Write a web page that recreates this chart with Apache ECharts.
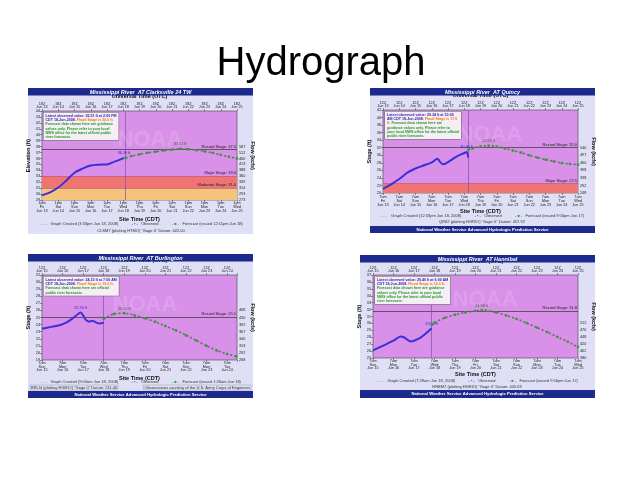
<!DOCTYPE html>
<html><head><meta charset="utf-8">
<script src="https://cdn.jsdelivr.net/npm/echarts@6/dist/echarts.min.js"></script>
<style>html,body{margin:0;padding:0;background:#fff;}#c{width:638px;height:478px;}</style>
</head><body><div id="c"></div>
<script>
// ---------------- DATA ----------------
// dates / weekdays for tick labels
const datesFrom13 = ['Jun 13','Jun 14','Jun 15','Jun 16','Jun 17','Jun 18','Jun 19','Jun 20','Jun 21','Jun 22','Jun 23','Jun 24','Jun 25'];
const weekdaysFrom13 = ['Fri','Sat','Sun','Mon','Tue','Wed','Thu','Fri','Sat','Sun','Mon','Tue','Wed'];
const datesFrom15 = ['Jun 15','Jun 16','Jun 17','Jun 18','Jun 19','Jun 20','Jun 21','Jun 22','Jun 23','Jun 24','Jun 25'];
const weekdaysFrom15 = ['Sun','Mon','Tue','Wed','Thu','Fri','Sat','Sun','Mon','Tue','Wed'];

// Clarksville (x = days since Jun 13 1pm CDT, y = stage ft)
const clarksvilleObserved = [[0,29.8],[0.5,30.3],[1,31.1],[1.5,32.3],[2,33.6],[2.5,34.3],[3,34.8],[3.5,34.95],[4,35.0],[4.5,35.5],[5.05,36.1]];
const clarksvilleForecast = [[5.15,36.1],[5.5,36.4],[6,36.7],[6.5,36.95],[7,37.15],[7.5,37.35],[8,37.5],[8.5,37.62],[9,37.55],[9.5,37.4],[10,37.2],[10.5,36.95],[11,36.6],[11.5,36.3],[12,36.0]];
const clarksvilleFlowStages = [29,30,31,32,33,34,35,36,37,38];
const clarksvilleFlowValues = ['273','293','314','339','360','388','413','460','512','587'];
const clarksvilleRecord = 37.5, clarksvilleMajor = 33.0, clarksvilleModerate = 31.0, clarksvilleNow = 5.15;

// Quincy (x = days since Jun 13 7am CDT)
const quincyObserved = [[0,21.1],[0.5,22.3],[1,23.7],[1.5,25.4],[2,26.5],[2.5,27.3],[3,28.1],[3.35,29.1],[3.5,28.3],[3.7,27.6],[4,28.2],[4.5,29.6],[5,30.6],[5.15,30.9],[5.25,29.4]];
const quincyForecast = [[5.25,31.5],[5.5,31.8],[6,32.3],[6.5,32.55],[7,32.3],[7.5,31.8],[8,31.25],[8.5,30.7],[9,30.0],[9.5,29.4],[10,28.85],[10.5,28.4],[11,27.95],[11.5,27.7],[12,27.5]];
const quincyFlowStages = [20,22,24,26,28,30,32];
const quincyFlowValues = ['248','292','338','398','460','497','540'];
const quincyRecord = 32.0, quincyMajor = 22.5, quincyNow = 5.25;

// Burlington (x = days since Jun 15 7am CDT)
const burlingtonObserved = [[0,23.4],[0.3,23.6],[0.6,23.75],[0.9,23.95],[1.2,24.3],[1.5,24.9],[1.75,25.5],[1.88,25.7],[2.0,25.3],[2.12,24.7],[2.3,24.4],[2.45,24.55],[2.6,24.35],[2.8,24.15],[3.0,24.25]];
const burlingtonForecast = [[3.0,24.8],[3.5,25.5],[4.0,25.6],[4.5,25.3],[5.0,24.9],[5.5,24.4],[6.0,23.8],[6.5,23.2],[7.0,22.5],[7.5,21.75],[8.0,21.0],[8.5,20.35],[9.0,19.85],[9.45,19.5]];
const burlingtonFlowStages = [19,20,21,22,23,24,25,26];
const burlingtonFlowValues = ['268','292','313','340','367','392','430','468'];
const burlingtonRecord = 25.1, burlingtonNow = 3.0;

// Hannibal (x = days since Jun 15 7am CDT)
const hannibalObserved = [[0,26.1],[0.5,26.8],[1.0,27.5],[1.35,28.1],[1.5,28.0],[1.7,27.6],[1.85,27.4],[2.0,27.5],[2.3,27.9],[2.6,28.6],[2.86,29.3]];
const hannibalForecast = [[2.86,29.8],[3.0,30.1],[3.5,30.8],[4.0,31.25],[4.5,31.6],[5.0,31.8],[5.3,31.9],[5.5,31.85],[6.0,31.6],[6.5,31.15],[7.0,30.65],[7.5,30.05],[8.0,29.4],[8.5,28.75],[9.0,28.05],[9.5,27.35],[10.0,26.6]];
const hannibalFlowStages = [25,26,27,28,29,30];
const hannibalFlowValues = ['380','402','420','448','476','512'];
const hannibalRecord = 31.8, hannibalNow = 2.86;

// ---------------- STYLE ----------------
const FF = 'Liberation Sans, Arial, sans-serif';
const PURPLE = '#d890e8', RED = '#f07474', ORANGE = '#f5c47a';
const PANEL = '#dfe0f6', NAVY = '#1b2a8c';

function bottomLabels(hour, wd, dates, n) { return dates.slice(0, n).map((d, i) => hour + '\n' + wd[i] + '\n' + d); }
function topLabels(z, dates, n) { return dates.slice(0, n).map(d => z + '\n' + d); }

const charts = [
  { grid: {left: 42, top: 111, width: 195, height: 89}, xMax: 12, gapB: 16.7, gapT: 12, lh: 3.8,
    bottom: bottomLabels('1pm', weekdaysFrom13, datesFrom13, 13), top: topLabels('18Z', datesFrom13, 13),
    yMin: 29, yMax: 44, yInt: 1, yName: 'Elevation (ft)',
    fs: clarksvilleFlowStages, fv: clarksvilleFlowValues, obs: clarksvilleObserved, fc: clarksvilleForecast,
    record: clarksvilleRecord, now: clarksvilleNow,
    bands: [[29, clarksvilleModerate, ORANGE], [clarksvilleModerate, clarksvilleMajor, RED]],
    stageLines: [[clarksvilleMajor, 'Major Stage: '], [clarksvilleModerate, 'Moderate Stage: ']] },
  { grid: {left: 383, top: 110, width: 195, height: 83}, xMax: 12, gapB: 15.7, gapT: 11.7, lh: 4,
    bottom: bottomLabels('7am', weekdaysFrom13, datesFrom13, 13), top: topLabels('12Z', datesFrom13, 13),
    yMin: 20, yMax: 42, yInt: 2, yName: 'Stage (ft)',
    fs: quincyFlowStages, fv: quincyFlowValues, obs: quincyObserved, fc: quincyForecast,
    record: quincyRecord, now: quincyNow,
    bands: [[20, quincyMajor, RED]], stageLines: [[quincyMajor, 'Major Stage: ']] },
  { grid: {left: 42, top: 275, width: 195, height: 85}, xMax: 9.48, gapB: 15.5, gapT: 11.7, lh: 3.5,
    bottom: bottomLabels('7am', weekdaysFrom15, datesFrom15, 10), top: topLabels('12Z', datesFrom15, 10),
    yMin: 19, yMax: 31, yInt: 1, yName: 'Stage (ft)',
    fs: burlingtonFlowStages, fv: burlingtonFlowValues, obs: burlingtonObserved, fc: burlingtonForecast,
    record: burlingtonRecord, now: burlingtonNow, bands: [], stageLines: [] },
  { grid: {left: 373, top: 275, width: 205, height: 83}, xMax: 10, gapB: 13.5, gapT: 11, lh: 3.3,
    bottom: bottomLabels('7am', weekdaysFrom15, datesFrom15, 11), top: topLabels('12Z', datesFrom15, 11),
    yMin: 25, yMax: 37, yInt: 1, yName: 'Stage (ft)',
    fs: hannibalFlowStages, fv: hannibalFlowValues, obs: hannibalObserved, fc: hannibalForecast,
    record: hannibalRecord, now: hannibalNow, bands: [], stageLines: [] }
];

const isInt = v => Math.abs(v - Math.round(v)) < 1e-6;
const tickStyle = {show: true, length: 2, lineStyle: {color: '#333', width: 0.5}};
const nameStyle = {fontSize: 5.5, fontWeight: 'bold', color: '#111', fontFamily: FF};

const grid = [], xAxis = [], yAxis = [], series = [];
charts.forEach((c, gi) => {
  grid.push(Object.assign({show: true, backgroundColor: PURPLE, borderColor: '#444', borderWidth: 0.6}, c.grid));
  xAxis.push({type: 'value', gridIndex: gi, position: 'bottom', min: 0, max: c.xMax, interval: 1,
    name: 'Site Time (CDT)', nameLocation: 'middle', nameGap: c.gapB, nameMoveOverlap: false, nameTextStyle: nameStyle,
    axisLine: {show: false}, axisTick: tickStyle, splitLine: {show: false},
    axisLabel: {fontSize: 3.8, lineHeight: c.lh, margin: 1.5, color: '#222', fontFamily: FF,
      formatter: v => isInt(v) && c.bottom[Math.round(v)] ? c.bottom[Math.round(v)] : ''}});
  xAxis.push({type: 'value', gridIndex: gi, position: 'top', min: 0, max: c.xMax, interval: 1,
    name: 'Universal Time (UTC)', nameLocation: 'middle', nameGap: c.gapT, nameMoveOverlap: false, nameTextStyle: nameStyle,
    axisLine: {show: false}, axisTick: tickStyle, splitLine: {show: false},
    axisLabel: {fontSize: 3.8, lineHeight: 3.6, margin: 2, color: '#222', fontFamily: FF,
      formatter: v => isInt(v) && c.top[Math.round(v)] ? c.top[Math.round(v)] : ''}});
  yAxis.push({type: 'value', gridIndex: gi, position: 'left', min: c.yMin, max: c.yMax, interval: c.yInt,
    name: c.yName, nameLocation: 'middle', nameGap: 11, nameRotate: 90, nameMoveOverlap: false, nameTextStyle: nameStyle,
    axisLine: {show: false}, axisTick: tickStyle, splitLine: {show: false},
    axisLabel: {fontSize: 3.8, margin: 2, color: '#222', fontFamily: FF}});
  yAxis.push({type: 'value', gridIndex: gi, position: 'right', min: c.yMin, max: c.yMax, interval: c.yInt,
    name: 'Flow (kcfs)', nameLocation: 'middle', nameGap: 13, nameRotate: -90, nameMoveOverlap: false, nameTextStyle: nameStyle,
    axisLine: {show: false}, axisTick: {show: false}, splitLine: {show: false},
    axisLabel: {fontSize: 3.8, margin: 2, color: '#222', fontFamily: FF,
      formatter: v => { const i = c.fs.findIndex(s => Math.abs(s - v) < 1e-6); return i >= 0 ? c.fv[i] : ''; }}});

  const mlData = [
    {yAxis: c.record, label: {formatter: 'Record Stage: ' + c.record.toFixed(1)}, lineStyle: {color: '#333', width: 0.7, type: 'solid'}},
    {xAxis: c.now, label: {show: false}, lineStyle: {color: '#7a52b5', width: 0.7, type: 'solid'}}
  ];
  c.stageLines.forEach(s => mlData.push({yAxis: s[0], label: {formatter: s[1] + s[0].toFixed(1)}, lineStyle: {color: '#b04a6a', width: 0.5, type: 'solid'}}));

  series.push({type: 'line', name: 'Observed', xAxisIndex: 2 * gi, yAxisIndex: 2 * gi, data: c.obs,
    smooth: 0.3, showSymbol: false, lineStyle: {color: '#3a2fd9', width: 2}, z: 5,
    markArea: {silent: true, data: c.bands.map(b => [{yAxis: b[0], itemStyle: {color: b[2]}}, {yAxis: b[1]}])},
    markLine: {silent: true, symbol: 'none', data: mlData,
      label: {position: 'insideEndTop', fontSize: 4, color: '#222', distance: 1, fontFamily: FF}},
    markPoint: {silent: true, symbol: 'circle', symbolSize: 1, itemStyle: {color: 'rgba(0,0,0,0)'},
      data: [{type: 'max'}],
      label: {show: true, position: 'top', distance: 2, fontSize: 3.8, color: '#3322cc', fontFamily: FF,
        formatter: p => p.value.toFixed(2) + ' ft'}}
  });
  series.push({type: 'line', name: 'Forecast', xAxisIndex: 2 * gi, yAxisIndex: 2 * gi, data: c.fc,
    smooth: 0.3, symbol: 'rect', symbolSize: 2.4, showAllSymbol: true, itemStyle: {color: '#2aa52a'},
    lineStyle: {color: '#6a6a6a', width: 1.6, type: [2, 2]}, z: 6,
    markPoint: {silent: true, symbol: 'circle', symbolSize: 1, itemStyle: {color: 'rgba(0,0,0,0)'},
      data: [{type: 'max'}],
      label: {show: true, position: 'top', distance: 2, fontSize: 3.8, color: '#2d5a2d', fontFamily: FF,
        formatter: p => p.value.toFixed(2) + ' ft'}}
  });
});

// ---------------- DECORATION ----------------
const g = [];
function rect(x, y, w, h, fill, z) { g.push({type: 'rect', shape: {x, y, width: w, height: h}, style: {fill}, z: z, silent: true}); }
function text(t, x, y, opts) {
  g.push({type: 'text', x: x, y: y, z: 50, silent: true,
    style: Object.assign({text: t, fontFamily: FF, fontSize: 4, fill: '#222', align: 'center', verticalAlign: 'middle'}, opts)});
}
const panels = [
  {x: 28, y: 88, w: 225, h: 146, title: 'Mississippi River  AT Clarksville 24 TW', footer: null},
  {x: 370, y: 88, w: 225, h: 145, title: 'Mississippi River  AT Quincy', footer: 226},
  {x: 28, y: 254, w: 225, h: 144, title: 'Mississippi River  AT Burlington', footer: 391},
  {x: 360, y: 255, w: 235, h: 143, title: 'Mississippi River  AT Hannibal', footer: 390}
];
panels.forEach(p => {
  const bottom = p.y + p.h;
  rect(p.x, p.y, p.w, p.h, PANEL, -10);
  rect(p.x, p.y, p.w, 7.5, NAVY, 40);
  text(p.title, p.x + p.w / 2, p.y + 4, {fill: '#fff', fontSize: 5.5, fontWeight: 'bold', fontStyle: 'italic'});
  if (p.footer) {
    rect(p.x, p.footer, p.w, bottom - p.footer, NAVY, 40);
    text('National Weather Service Advanced Hydrologic Prediction Service', p.x + p.w / 2, p.footer + (bottom - p.footer) / 2,
      {fill: '#fff', fontSize: 4.2, fontWeight: 'bold'});
  }
});

// NOAA watermark
[[150, 140], [490, 135], [145, 305], [485, 300]].forEach(pt =>
  text('NOAA', pt[0], pt[1], {fontSize: 22, fontWeight: 'bold', fill: 'rgba(255,255,255,0.14)'}));

// info boxes
const rich = {
  b: {fill: '#3322aa', fontSize: 3.6, fontWeight: 'bold', fontFamily: FF, lineHeight: 4.3},
  o: {fill: '#f07a10', fontSize: 3.6, fontWeight: 'bold', fontFamily: FF, lineHeight: 4.3},
  gr: {fill: '#1f9a1f', fontSize: 3.6, fontWeight: 'bold', fontFamily: FF, lineHeight: 4.3}
};
function infoBox(x, y, lines) {
  g.push({type: 'text', x: x, y: y, z: 60, silent: true,
    style: {text: lines.join('\n'), rich: rich, align: 'left', verticalAlign: 'top', fontSize: 3.6, lineHeight: 4.3,
      backgroundColor: '#f6eef7', borderColor: '#555', borderWidth: 0.5, padding: [1, 2, 1, 2]}});
}
infoBox(43.5, 112.5, ['{b|Latest observed value: 36.51 ft at 2:00 PM}', '{b|CDT 18-Jun-2008. }{o|Flood Stage is 25.0 ft.}',
  '{gr|Forecast data shown here are guidance}', '{gr|values only. Please refer to your local}',
  '{gr|NWS office for the latest official public}', '{gr|river forecasts.}']);
infoBox(385, 111.5, ['{b|Latest observed value: 29.34 ft at 10:00}', '{b|AM CDT 18-Jun-2008. }{o|Flood Stage is 17.0}',
  '{o|ft.} {gr|Forecast data shown here are}', '{gr|guidance values only. Please refer to}',
  '{gr|your local NWS office for the latest official}', '{gr|public river forecasts.}']);
infoBox(43.5, 276.5, ['{b|Latest observed value: 24.33 ft at 7:00 AM}', '{b|CDT 18-Jun-2008. }{o|Flood Stage is 15.0 ft.}',
  '{gr|Forecast data shown here are official}', '{gr|public river forecasts.}']);
infoBox(375, 276.5, ['{b|Latest observed value: 29.40 ft at 6:00 AM}', '{b|CDT 18-Jun-2008. }{o|Flood Stage is 16.0 ft.}',
  '{gr|Forecast data shown here are guidance}', '{gr|values only. Please refer to your local}',
  '{gr|NWS office for the latest official public}', '{gr|river forecasts.}']);

// legend rows
const legRich = {
  gl: {fill: '#9a9ad0', fontSize: 4, fontFamily: FF},
  ob: {fill: '#3a2fd9', fontSize: 4, fontWeight: 'bold', fontFamily: FF},
  fc: {fill: '#2aa52a', fontSize: 4, fontWeight: 'bold', fontFamily: FF},
  t: {fill: '#333', fontSize: 4, fontFamily: FF}
};
function legend(x, y, created, issued) {
  g.push({type: 'text', x: x, y: y, z: 50, silent: true,
    style: {text: '{gl|——} {t|Graph Created (' + created + ')}    {ob|- • -} {t|Observed}    {fc|- ■ -} {t|Forecast (issued ' + issued + ')}',
      rich: legRich, align: 'center', verticalAlign: 'middle'}});
}
legend(141, 224, '3:33pm Jun 18, 2008', '12:11pm Jun 18');
legend(482, 215.7, '12:33pm Jun 18, 2008', '9:56pm Jun 17');
legend(140, 381.7, '9:03am Jun 18, 2008', '1:26am Jun 18');
legend(477, 380.7, '7:28am Jun 18, 2008', '9:56pm Jun 17');

text('CLKM7 (plotting HTMO) "Gage 0" Datum: 422.00', 141, 230.5, {fill: '#333'});
text('QINI2 (plotting HGRIO) "Gage 0" Datum: 457.92', 482, 221.7, {fill: '#333'});
text('BRLI4 (plotting HGRIO) "Gage 0" Datum: 511.40', 30, 387.5, {fill: '#333', align: 'left',
  borderColor: '#888', borderWidth: 0.4, padding: [0.5, 1], width: 86});
text('Observations courtesy of the U.S. Army Corps of Engineers', 251, 387.5, {fill: '#333', align: 'right',
  borderColor: '#888', borderWidth: 0.4, padding: [0.5, 1]});
text('HNBM7 (plotting HGRIO) "Gage 0" Datum: 445.63', 477, 386.6, {fill: '#333'});

// slide title
text('Hydrograph', 321, 64, {fontSize: 40, fill: '#000', fontFamily: 'Liberation Sans, Arial, sans-serif'});

const chart = echarts.init(document.getElementById('c'), null, {renderer: 'canvas'});
chart.setOption({animation: false, backgroundColor: '#fff', grid, xAxis, yAxis, series, graphic: g});
</script>
</body></html>
